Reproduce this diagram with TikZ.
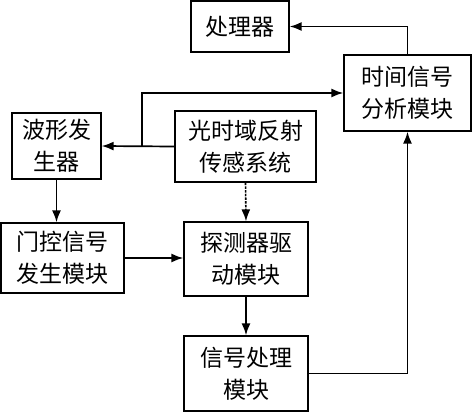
\documentclass[tikz,border=0pt]{standalone}
\usepackage{fontspec}
\setmainfont{Noto Sans CJK SC}
\usetikzlibrary{arrows.meta}
\begin{document}
\begin{tikzpicture}[x=1pt,y=-1pt,
  box/.style={draw,line width=1.3pt,inner sep=0pt,align=center,font=\fontsize{23}{32}\selectfont},
  conn/.style={line width=1.7pt,-{Latex[length=12pt,width=9pt]}},
  dconn/.style={line width=1.6pt,dash pattern=on 2.5pt off 1.2pt,-{Latex[length=12pt,width=9pt]}}]
\useasboundingbox (0,0) rectangle (474,412);
\node[box,minimum width=98pt,minimum height=51pt] (chu) at (240,26.5) {处理器};
\node[box,minimum width=127pt,minimum height=76pt] (shi) at (407.5,93) {时间信号\\分析模块};
\node[box,minimum width=89pt,minimum height=66pt] (bo) at (56.5,146) {波形发\\生器};
\node[box,minimum width=141pt,minimum height=71pt] (guang) at (245.5,146.5) {光时域反射\\传感系统};
\node[box,minimum width=123pt,minimum height=70pt] (men) at (62.5,258) {门控信号\\发生模块};
\node[box,minimum width=124pt,minimum height=74pt] (tan) at (246,259) {探测器驱\\动模块};
\node[box,minimum width=124pt,minimum height=75pt] (xin) at (246,373.5) {信号处理\\模块};
\coordinate (br) at (142,146.5);
\draw[conn] (shi.north) |- (chu.east);
\draw[conn] (guang.west) -- (bo.east);
\draw[conn] (br) |- (shi.west);
\draw[dconn] (guang.south) -- (tan.north);
\draw[conn] (bo.south) -- (bo.south |- men.north);
\draw[conn] (men.east) -- (men.east -| tan.west);
\draw[conn] (tan.south) -- (xin.north);
\draw[conn] (xin.east) -| (shi.south);
\end{tikzpicture}
\end{document}
